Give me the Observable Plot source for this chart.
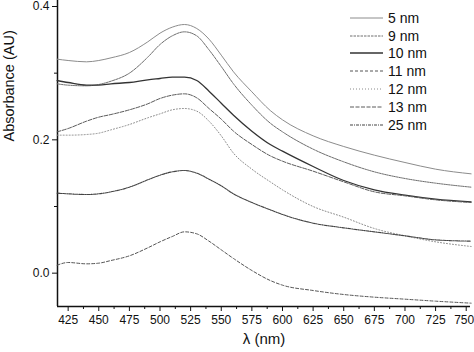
<!DOCTYPE html>
<html>
<head>
<meta charset="utf-8">
<script src="https://cdn.jsdelivr.net/npm/d3@7"></script>
<script src="https://cdn.jsdelivr.net/npm/@observablehq/plot@0.6"></script>
<style>
  body { margin: 0; background: #fff; }
  #wrap { position: relative; width: 474px; height: 352px; font-family: "Liberation Sans", Arial, sans-serif; }
  #legend { position: absolute; left: 350px; top: 9px; }
  .row { display: flex; align-items: center; height: 17.8px; font-size: 14px; color: #111; }
  .row svg { margin-right: 5px; }
</style>
</head>
<body>
<div id="wrap"><div id="legend"></div></div>
<script>
const wavelengths = [416,425,440,450,460,475,490,500,510,520,530,540,550,560,575,590,600,625,650,675,700,725,754];
const s5  = [0.321,0.319,0.317,0.319,0.323,0.331,0.347,0.360,0.369,0.373,0.367,0.351,0.327,0.302,0.272,0.244,0.230,0.206,0.190,0.177,0.166,0.156,0.149];
const s9  = [0.284,0.282,0.281,0.283,0.288,0.300,0.324,0.343,0.356,0.362,0.356,0.335,0.310,0.284,0.252,0.225,0.212,0.186,0.167,0.152,0.142,0.135,0.129];
const s10 = [0.289,0.286,0.282,0.282,0.284,0.286,0.290,0.292,0.294,0.294,0.289,0.273,0.255,0.237,0.213,0.193,0.183,0.160,0.139,0.125,0.117,0.111,0.107];
const s11 = [0.012,0.016,0.014,0.015,0.019,0.026,0.038,0.047,0.055,0.062,0.059,0.048,0.035,0.022,0.004,-0.011,-0.018,-0.026,-0.032,-0.036,-0.039,-0.042,-0.045];
const s12 = [0.207,0.207,0.208,0.210,0.215,0.223,0.233,0.239,0.245,0.247,0.243,0.228,0.206,0.180,0.156,0.137,0.125,0.100,0.084,0.067,0.056,0.047,0.040];
const s13 = [0.212,0.217,0.228,0.234,0.238,0.245,0.254,0.262,0.267,0.269,0.263,0.247,0.231,0.213,0.193,0.176,0.168,0.153,0.137,0.122,0.116,0.110,0.106];
const s25 = [0.120,0.119,0.118,0.119,0.122,0.129,0.140,0.147,0.152,0.154,0.150,0.141,0.131,0.119,0.106,0.095,0.088,0.075,0.068,0.062,0.056,0.050,0.048];

const seriesNames = ["5 nm","9 nm","10 nm","11 nm","12 nm","13 nm","25 nm"];
const seriesValues = [s5, s9, s10, s11, s12, s13, s25];
const seriesColors = ["#8c8c8c","#6e6e6e","#333333","#555555","#8a8a8a","#5a5a5a","#444444"];
const seriesDash = ["none","2.5,1","none","3,2","1,2","4,1.5","3,1,1,1"];
const seriesWidth = [1,1,1.3,1,1,1,1.1];

const xTicks = d3.range(425, 751, 25);
const xMinor = d3.range(437.5, 751, 25);
const yTicks = [0.0, 0.2, 0.4];
const yMinor = [0.1, 0.3];
const xDomain = [416.3, 753.5];
const yDomain = [-0.05, 0.409];
const lastXTick = xTicks[xTicks.length - 1];

const marks = [];
seriesNames.forEach((name, i) => {
  const data = wavelengths.map((w, j) => ({w, v: seriesValues[i][j]}));
  marks.push(Plot.line(data, {x: "w", y: "v", curve: "monotone-x", stroke: seriesColors[i],
    strokeWidth: seriesWidth[i], strokeDasharray: seriesDash[i]}));
});

const chart = Plot.plot({
  width: 474, height: 352,
  marginLeft: 57, marginRight: 4, marginTop: 0, marginBottom: 46,
  style: {fontFamily: '"Liberation Sans", Arial, sans-serif', fontSize: "12px", color: "#111", background: "transparent"},
  x: {domain: xDomain},
  y: {domain: yDomain},
  marks: [
    Plot.axisX(xTicks, {tickSize: 5, tickPadding: 4, tickFormat: d => d === lastXTick ? "" : d, label: null, fontSize: 12}),
    Plot.text([lastXTick], {x: d => d, frameAnchor: "bottom", dy: 9, lineAnchor: "top", textAnchor: "end", dx: 8, fontSize: 12, fill: "#111"}),
    Plot.axisX(xMinor, {tickSize: 3, tickFormat: () => "", label: null}),
    Plot.axisY(yTicks, {tickSize: 5, tickPadding: 3, tickFormat: ".1f", label: null, fontSize: 12}),
    Plot.axisY(yMinor, {tickSize: 3, tickFormat: () => "", label: null}),
    Plot.ruleX([xDomain[0]], {stroke: "#111", strokeWidth: 1.5}),
    Plot.ruleY([yDomain[0]], {stroke: "#111", strokeWidth: 1.5}),
    ...marks,
    Plot.text(["Absorbance (AU)"], {frameAnchor: "left", rotate: -90, dx: -48, dy: -12, fontSize: 14.5, fill: "#111"}),
    Plot.text(["λ (nm)"], {frameAnchor: "bottom", dy: 37, fontSize: 15, fill: "#111"})
  ]
});
document.getElementById("wrap").prepend(chart);

const legend = document.getElementById("legend");
seriesNames.forEach((name, i) => {
  const row = document.createElement("div");
  row.className = "row";
  row.innerHTML = `<svg width="33" height="6"><line x1="0" x2="33" y1="3" y2="3" stroke="${seriesColors[i]}" stroke-width="${seriesWidth[i]}" stroke-dasharray="${seriesDash[i]}"/></svg><span>${name}</span>`;
  legend.appendChild(row);
});
</script>
</body>
</html>
